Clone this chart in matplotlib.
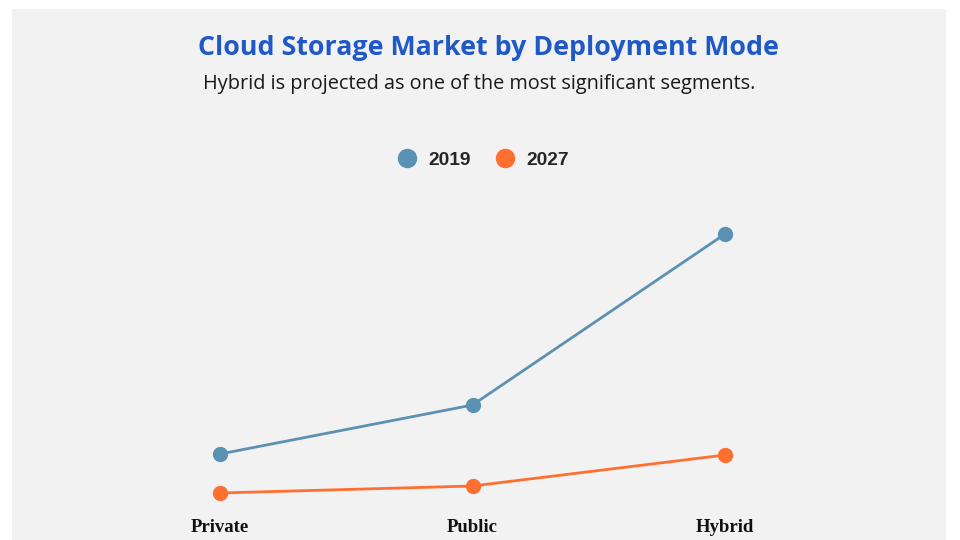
import matplotlib.pyplot as plt
from matplotlib.patches import Rectangle

# data (arbitrary units)
segments = ['Private', 'Public', 'Hybrid']
years = ['2019', '2027']
vals_2019 = [56, 105, 276]
vals_2027 = [17, 24, 55]
colors = ['#5b91b3', '#ff6f2f']

fig = plt.figure(figsize=(9.6, 5.4), dpi=100)
fig.patch.set_facecolor('white')

# light gray panel behind everything
fig.patches.append(Rectangle((12 / 960, 0), 934 / 960, 531 / 540,
                             transform=fig.transFigure, facecolor='#f2f2f2',
                             edgecolor='none', zorder=-5))

fig.text(488 / 960, 1 - 48 / 540, 'Cloud Storage Market by Deployment Mode',
         ha='center', va='center', fontsize=19.3, fontweight='bold',
         color='#1f58c7', family='Open Sans')
fig.text(479 / 960, 1 - 84 / 540,
         'Hybrid is projected as one of the most significant segments.',
         ha='center', va='center', fontsize=14.3, color='#1a1a1a',
         family='Open Sans')

# axes: x 0..2 -> px 220..725, y 0..310 -> px 510..200
ax = fig.add_axes([93.75 / 960, 30 / 540, 757.5 / 960, 310 / 540])
ax.set_zorder(2)
ax.set_xlim(-0.5, 2.5)
ax.set_ylim(0, 310)
ax.patch.set_alpha(0)
for s in ax.spines.values():
    s.set_visible(False)
ax.set_yticks([])
ax.set_xticks([])

x = range(len(segments))
ax.plot(x, vals_2019, color=colors[0], lw=2, marker='o', ms=10,
        label=years[0], zorder=3)
ax.plot(x, vals_2027, color=colors[1], lw=2, marker='o', ms=10,
        label=years[1], zorder=3)

for i, name in enumerate(segments):
    fig.text((220 + i * 252.5) / 960, 1 - 528 / 540, name, ha='center',
             va='center', fontsize=13.5, fontweight='bold',
             family='Liberation Serif', color='#111111')

leg = fig.legend(loc='center', bbox_to_anchor=(485 / 960, 1 - 160 / 540),
                 ncol=2, frameon=False, handlelength=0.6, handletextpad=0.85,
                 columnspacing=1.45, prop={'family': 'Liberation Sans',
                                           'weight': 'bold', 'size': 13.8})
for h in leg.legend_handles:
    h.set_linestyle('none')
    h.set_markersize(13)
for t in leg.get_texts():
    t.set_color('#262626')

fig.savefig('out.png', dpi=100)
